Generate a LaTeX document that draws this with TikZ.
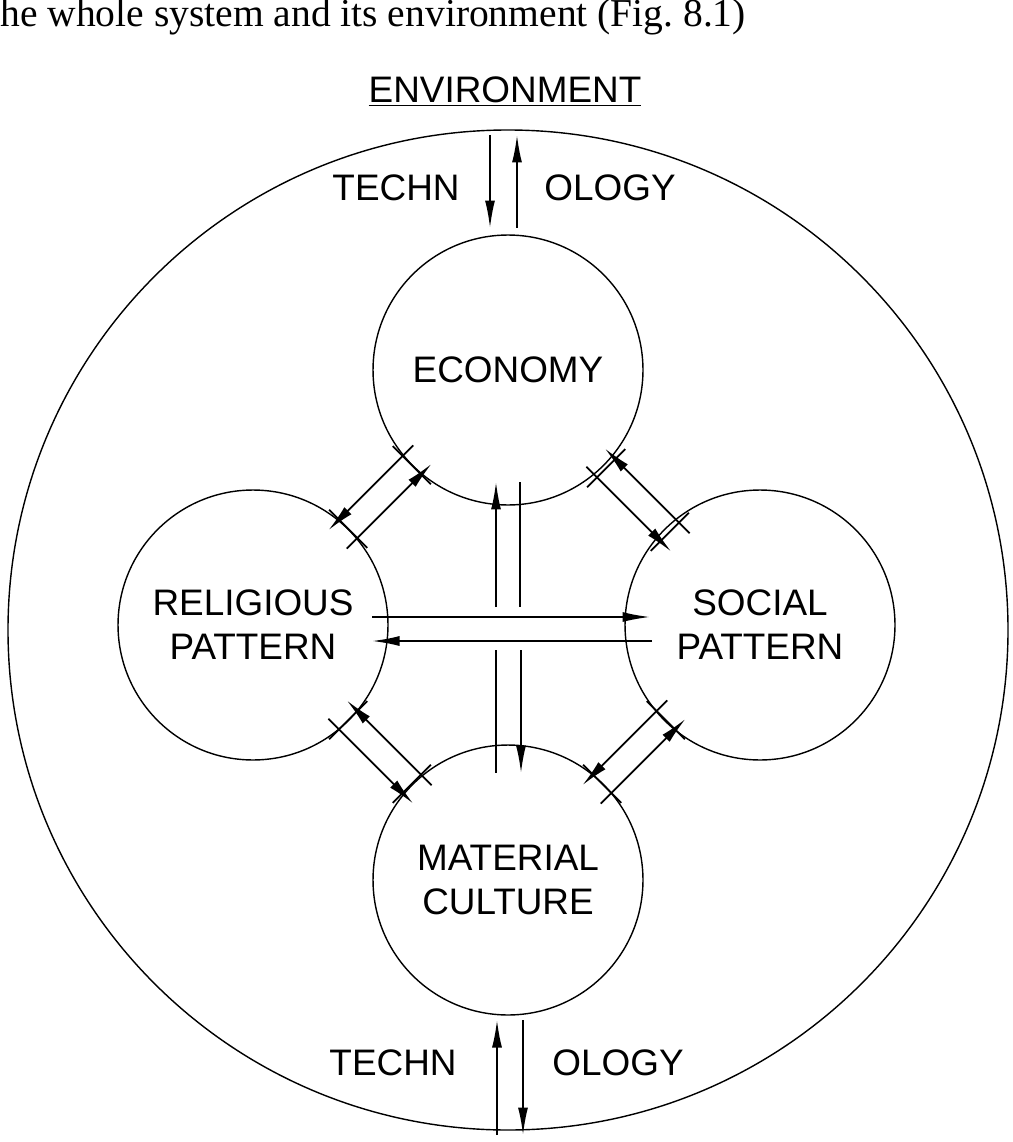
\documentclass[tikz,border=0pt]{standalone}
\usepackage{fontspec}
\setmainfont{Liberation Serif}
\newfontfamily\hv{Liberation Sans}
\usetikzlibrary{arrows.meta}
\begin{document}
\begin{tikzpicture}[x=0.02cm,y=-0.02cm,
  circ/.style={draw,circle,line width=0.8pt},
  lab/.style={font=\hv\fontsize{21}{25}\selectfont,align=center},
  ar/.style={line width=1pt,-{Latex[length=0.55cm,width=0.2cm]}},
  ln/.style={line width=1pt}]
\useasboundingbox (0,0) rectangle (1012,1142);
\node[anchor=base west,inner sep=0,font=\fontsize{22.5}{26}\selectfont] (cap) at (0,27) {he whole system and its environment (Fig.~8.1)};
\node[lab] (env) at (505,92) {\underline{ENVIRONMENT}};
\draw[line width=0.8pt] (508,630) circle (500);
\node[circ,minimum size=5.4cm,lab] (eco) at (508,370) {ECONOMY};
\node[circ,minimum size=5.4cm,lab] (rel) at (253,625) {RELIGIOUS\\PATTERN};
\node[circ,minimum size=5.4cm,lab] (soc) at (760,625) {SOCIAL\\PATTERN};
\node[circ,minimum size=5.4cm,lab] (mat) at (508,880) {MATERIAL\\CULTURE};
\node[lab] (t1) at (396,188) {TECHN};
\node[lab] (o1) at (610,188) {OLOGY};
\node[lab] (t2) at (393,1063) {TECHN};
\node[lab] (o2) at (618,1063) {OLOGY};
% top technology
\coordinate (a1) at (490,135); \coordinate (a2) at (490,228);
\coordinate (b1) at (517,228); \coordinate (b2) at (517,135);
\draw[ar] (a1) -- (a2); \draw[ar] (b1) -- (b2);
% bottom technology
\coordinate (c1) at (497,1135); \coordinate (c2) at (497,1020);
\coordinate (d1) at (523,1020); \coordinate (d2) at (523,1135);
\draw[ar] (c1) -- (c2); \draw[ar] (d1) -- (d2);
% center vertical
\coordinate (v1) at (496,607); \coordinate (v2) at (496,482);
\coordinate (v3) at (520,482); \coordinate (v4) at (520,607);
\draw[ar] (v1) -- (v2); \draw[ln] (v3) -- (v4);
\coordinate (v5) at (496,650); \coordinate (v6) at (496,773);
\coordinate (v7) at (521,650); \coordinate (v8) at (521,773);
\draw[ln] (v5) -- (v6); \draw[ar] (v7) -- (v8);
% horizontal
\coordinate (h1) at (372,617); \coordinate (h2) at (650,617);
\coordinate (h3) at (652,641); \coordinate (h4) at (372,641);
\draw[ar] (h1) -- (h2); \draw[ar] (h3) -- (h4);
% diagonal pairs
\foreach \mx/\my/\ang in {380/497/135, 638/500/45, 380/752/45, 634/752/-45}{
  \begin{scope}[shift={(\mx,\my)},rotate=-\ang]
    \coordinate (p1) at (-60,-13); \coordinate (p2) at (60,-13);
    \coordinate (q1) at (60,13); \coordinate (q2) at (-60,13);
    \draw[ar] (p2) -- (p1); \draw[ar] (q2) -- (q1);
    \coordinate (k1) at (-45,-27); \coordinate (k2) at (-45,27);
    \coordinate (k3) at (45,-27); \coordinate (k4) at (45,27);
    \draw[ln] (k1) -- (k2); \draw[ln] (k3) -- (k4);
  \end{scope}}
\end{tikzpicture}
\end{document}
